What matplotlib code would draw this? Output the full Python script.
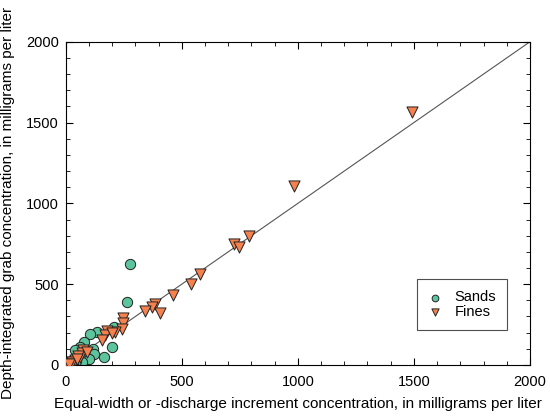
import matplotlib
matplotlib.use("Agg")
import matplotlib.pyplot as plt
from matplotlib.ticker import MultipleLocator

plt.rcParams['font.family'] = ['Liberation Sans', 'DejaVu Sans']

sands_x = [277, 262, 133, 105, 80, 198, 165, 119, 123, 54, 69, 50, 83, 60, 40, 85,
           100, 70, 35, 45, 20, 10, 5, 15, 30, 207]
sands_y = [626, 392, 207, 192, 145, 114, 48, 97, 68, 93, 72, 60, 31, 110, 90, 55,
           40, 20, 40, 25, 10, 5, 2, 15, 5, 232]

fines_x = [1490, 984, 791, 725, 747, 579, 539, 460, 385, 371, 342, 406, 248, 248,
           241, 212, 177, 169, 198, 155, 76, 69, 62, 33, 20, 10, 90, 55, 40, 25, 5, 15, 50]
fines_y = [1565, 1105, 800, 750, 730, 564, 500, 434, 376, 358, 335, 320, 293, 258,
           223, 207, 211, 186, 196, 155, 93, 72, 48, 21, 14, 8, 80, 55, 30, 20, 3, 5, 40]

line_vals = [0, 2000]

fig = plt.figure(figsize=(5.5, 4.2), dpi=100)
ax = fig.add_axes([0.1195, 0.131, 0.8441, 0.7696])

ax.plot(line_vals, line_vals, color='#555555', lw=0.8, zorder=1)
ax.scatter(sands_x, sands_y, s=55, marker='o', facecolor='#5cc59e',
           edgecolor='#222222', linewidth=0.7, zorder=2, label='Sands')
ax.scatter(fines_x, fines_y, s=64, marker='v', facecolor='#f4814e',
           edgecolor='#222222', linewidth=0.7, zorder=3, label='Fines')

ax.set_xlim(0, 2000)
ax.set_ylim(0, 2000)
ax.xaxis.set_major_locator(MultipleLocator(500))
ax.yaxis.set_major_locator(MultipleLocator(500))
ax.xaxis.set_minor_locator(MultipleLocator(100))
ax.yaxis.set_minor_locator(MultipleLocator(100))
ax.tick_params(which='both', direction='in', top=True, right=True, labelsize=10.5)
ax.tick_params(which='major', length=5)
ax.tick_params(which='minor', length=3)
ax.tick_params(axis='x', which='major', pad=7)
ax.tick_params(axis='y', which='major', pad=5)

ax.set_xlabel('Equal-width or -discharge increment concentration, in milligrams per liter',
              fontsize=11, labelpad=6)
ax.set_ylabel('Depth-integrated grab concentration, in milligrams per liter',
              fontsize=11, labelpad=8)

leg = ax.legend(loc='lower right', bbox_to_anchor=(0.9505, 0.108), borderaxespad=0,
                fancybox=False, edgecolor='#222222', markerscale=0.65, fontsize=10.5,
                borderpad=0.75, handletextpad=0.8, labelspacing=0.05, handlelength=1.0)
leg.get_frame().set_linewidth(0.8)

fig.savefig('out.png', dpi=100)
